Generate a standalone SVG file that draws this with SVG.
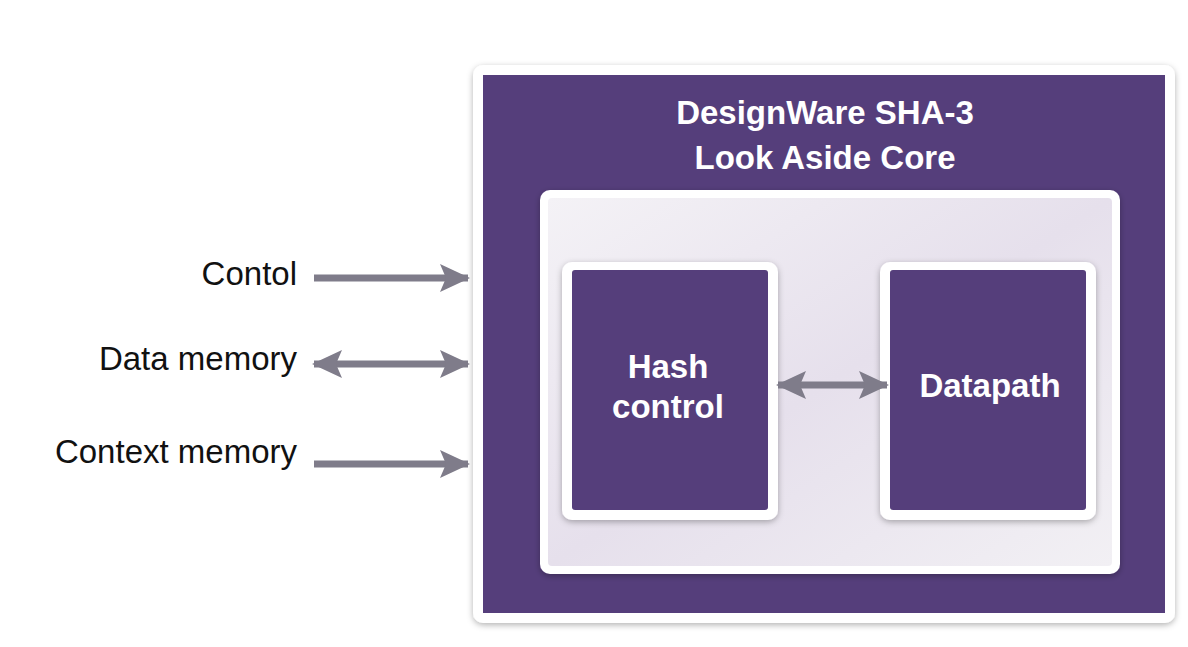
<svg xmlns="http://www.w3.org/2000/svg" width="1188" height="647" viewBox="0 0 1188 647">
<style>
.p{fill:#553e7b}.w{fill:#fff}
.t{font-family:"Liberation Sans",Arial,sans-serif;font-size:33px;fill:#111}
.b{font-family:"Liberation Sans",Arial,sans-serif;font-size:33px;font-weight:bold;fill:#fff;text-anchor:middle}
.c{stroke:#7f7c8a;stroke-width:7;fill:none}
</style>
<defs>
<marker id="h" viewBox="0 0 30 28" refX="28" refY="14" markerWidth="30" markerHeight="28" markerUnits="userSpaceOnUse" orient="auto-start-reverse">
<path d="M0,0 L30,14 L0,28 L6,14 Z" fill="#7f7c8a"/>
</marker>
<linearGradient id="g" x1="0" y1="0" x2="1" y2="1"><stop offset="0" stop-color="#f4f2f6"/><stop offset="0.5" stop-color="#e6e0ec"/><stop offset="1" stop-color="#f2f0f4"/></linearGradient>
<filter id="s"><feDropShadow dx="0" dy="2" stdDeviation="3" flood-opacity="0.3"/></filter>
</defs>
<g id="outer">
<rect x="473" y="65" width="702" height="558" rx="10" class="w" filter="url(#s)"/>
<rect x="483" y="75" width="682" height="538" class="p"/>
<text class="b" x="825" y="124">DesignWare SHA-3</text>
<text class="b" x="825" y="169">Look Aside Core</text>
</g>
<g id="inner">
<rect x="540" y="190" width="580" height="384" rx="10" class="w" filter="url(#s)"/>
<rect x="548" y="198" width="564" height="368" rx="4" fill="url(#g)"/>
</g>
<g id="hash">
<rect x="562" y="262" width="216" height="258" rx="10" class="w" filter="url(#s)"/>
<rect x="572" y="270" width="196" height="240" rx="3" class="p"/>
<text class="b" x="668" y="378">Hash</text>
<text class="b" x="668" y="418">control</text>
</g>
<g id="datapath">
<rect x="880" y="262" width="216" height="258" rx="10" class="w" filter="url(#s)"/>
<rect x="890" y="270" width="196" height="240" rx="3" class="p"/>
<text class="b" x="990" y="397">Datapath</text>
</g>
<g id="labels">
<text class="t" x="297" y="285" text-anchor="end">Contol</text>
<text class="t" x="297" y="370" text-anchor="end">Data memory</text>
<text class="t" x="297" y="463" text-anchor="end">Context memory</text>
</g>
<g id="connectors">
<line class="c" x1="314" y1="278" x2="468" y2="278" marker-end="url(#h)"/>
<line class="c" x1="314" y1="364" x2="468" y2="364" marker-start="url(#h)" marker-end="url(#h)"/>
<line class="c" x1="314" y1="464" x2="468" y2="464" marker-end="url(#h)"/>
<line class="c" x1="778" y1="385" x2="887" y2="385" marker-start="url(#h)" marker-end="url(#h)"/>
</g>
</svg>
